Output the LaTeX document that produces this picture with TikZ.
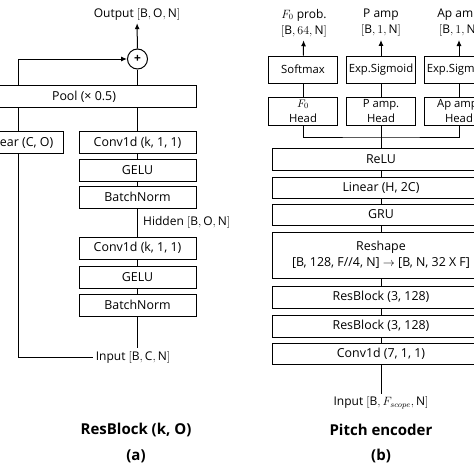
\documentclass[tikz,border=0pt]{standalone}
\usepackage{fontspec}
\setmainfont{Open Sans}
\usetikzlibrary{arrows.meta}

\tikzset{
  blk/.style={draw, line width=1pt, minimum height=22pt, inner sep=0pt, font=\fontsize{12.4}{16}\selectfont},
  hblk/.style={blk, minimum width=69pt, align=center, font=\fontsize{11.3}{15}\selectfont},
  lbl/.style={inner sep=3pt, align=center, font=\fontsize{12}{16}\selectfont},
  captxt/.style={font=\fontsize{15}{17}\selectfont\bfseries},
  link/.style={line width=1pt},
  arr/.style={line width=1pt, -{Latex[length=6pt,width=5pt]}},
}

\begin{document}
\begin{tikzpicture}[x=1pt,y=-1pt]
\useasboundingbox (0,0) rectangle (474,474);
\clip (0,0) rectangle (474,474);

% (a) residual block
\node [blk, minimum width=224pt] (pool) at (84,96.5) {Pool (× 0.5)};
\node [blk, minimum width=90pt] (lin) at (18,142.5) {Linear (C, O)};
\node [blk, minimum width=117pt] (conva) at (137.5,142.5) {Conv1d (k, 1, 1)};
\node [blk, minimum width=117pt] (gelua) at (137.5,170) {GELU};
\node [blk, minimum width=117pt] (bna) at (137.5,197) {BatchNorm};
\node [blk, minimum width=117pt] (convb) at (137.5,248) {Conv1d (k, 1, 1)};
\node [blk, minimum width=117pt] (gelub) at (137.5,277) {GELU};
\node [blk, minimum width=117pt] (bnb) at (137.5,305) {BatchNorm};

\node [draw, circle, line width=1pt, minimum size=20pt, inner sep=0pt, font=\large\bfseries] (add) at (137.5,59) {+};
\node [lbl] (outa) at (137,14) {Output $[\mathrm{B},\mathrm{O},\mathrm{N}]$};
\node [lbl, anchor=west] (hid) at (140,222) {Hidden $[\mathrm{B},\mathrm{O},\mathrm{N}]$};
\node [lbl] (ina) at (133,357) {Input $[\mathrm{B},\mathrm{C},\mathrm{N}]$};

\draw [link] (conva) -- (gelua) ;
\draw [link] (gelua) -- (bna) ;
\draw [link] (bna) -- (convb) ;
\draw [link] (convb) -- (gelub) ;
\draw [link] (gelub) -- (bnb) ;
\draw [link] (bnb) -- (bnb |- ina.north) ;
\draw [link] (conva) -- (conva |- pool.south) ;
\draw [link] (pool.north -| add) -- (add) ;
\draw [arr] (add) -- (outa) ;
\draw [link] (lin) -- (lin |- pool.south) ;
\draw [arr] (lin |- pool.north) |- (add) ;
\draw [link] (lin.south) |- (ina.west) ;

\node [captxt] (capa) at (136,430) {ResBlock (k, O)};
\node [captxt] (suba) at (136,456) {(a)};

% (b) pitch encoder
\node [lbl] (fprob) at (304,23) {$F_0$ prob.\\$[\mathrm{B},64,\mathrm{N}]$};
\node [lbl] (pamp) at (381,23) {P amp\\$[\mathrm{B},1,\mathrm{N}]$};
\node [lbl] (apamp) at (459,23) {Ap amp\\$[\mathrm{B},1,\mathrm{N}]$};

\node [hblk, minimum height=27pt] (soft) at (303,69.5) {Softmax};
\node [hblk, minimum height=27pt] (pexp) at (381,69.5) {Exp.Sigmoid};
\node [hblk, minimum height=27pt] (apexp) at (459,69.5) {Exp.Sigmoid};
\node [hblk, minimum height=28pt] (fhead) at (303,111) {$F_0$\\Head};
\node [hblk, minimum height=28pt] (phead) at (381,111) {P amp.\\Head};
\node [hblk, minimum height=28pt] (aphead) at (459,111) {Ap amp.\\Head};

\node [blk, minimum width=218pt] (relu) at (381,159.5) {ReLU};
\node [blk, minimum width=218pt, minimum height=21pt] (linear) at (381,187.5) {Linear (H, 2C)};
\node [blk, minimum width=218pt, minimum height=21pt] (gru) at (381,214.5) {GRU};
\node [blk, minimum width=218pt, minimum height=46pt, align=center] (reshape) at (381,255)
  {Reshape\\{[}B, 128, F//4, N{]} $\to$ {[}B, N, 32 X F{]}};
\node [blk, minimum width=218pt] (resa) at (381,297) {ResBlock (3, 128)};
\node [blk, minimum width=218pt] (resb) at (381,326) {ResBlock (3, 128)};
\node [blk, minimum width=218pt, minimum height=21pt] (conv) at (381,353.5) {Conv1d (7, 1, 1)};
\node [lbl] (inb) at (381,403) {Input $[\mathrm{B},F_{scope},\mathrm{N}]$};

\draw [arr] (soft) -- (fprob) ;
\draw [arr] (pexp) -- (pamp) ;
\draw [arr] (apexp) -- (apamp) ;
\draw [link] (fhead) -- (soft) ;
\draw [link] (phead) -- (pexp) ;
\draw [link] (aphead) -- (apexp) ;
\coordinate (mrg) at (381,137) ;
\draw [link] (fhead.south) |- (mrg) -| (aphead.south) ;
\draw [link] (phead) -- (relu) ;
\draw [link] (relu) -- (linear) ;
\draw [link] (linear) -- (gru) ;
\draw [link] (gru) -- (reshape) ;
\draw [link] (reshape) -- (resa) ;
\draw [link] (resa) -- (resb) ;
\draw [link] (resb) -- (conv) ;
\draw [link] (conv) -- (conv |- inb.north) ;

\node [captxt] (capb) at (381,430) {Pitch encoder};
\node [captxt] (subb) at (381,456) {(b)};

\end{tikzpicture}
\end{document}
